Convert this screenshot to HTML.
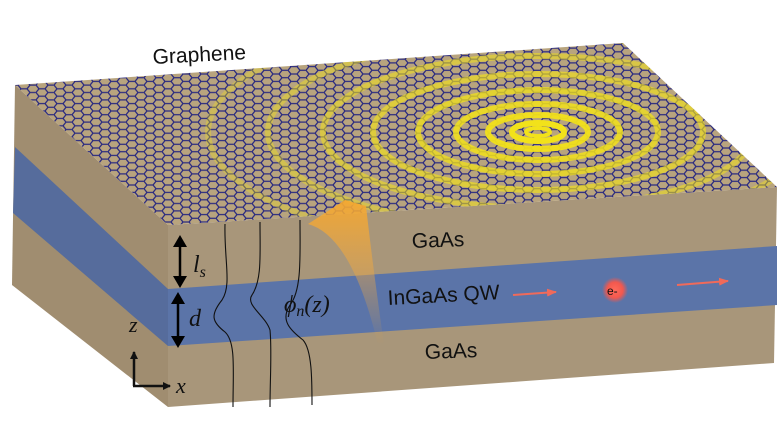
<!DOCTYPE html>
<html><head><meta charset="utf-8"><style>
html,body{margin:0;padding:0;background:#fff;}
svg{display:block;}
text{font-family:"Liberation Sans","DejaVu Sans",sans-serif;}
.it{font-family:"Liberation Serif","DejaVu Serif",serif;font-style:italic;}
</style></head><body>
<svg width="777" height="437" viewBox="0 0 777 437" xmlns="http://www.w3.org/2000/svg">
<defs>
<pattern id="hex" width="18" height="7.4" patternUnits="userSpaceOnUse">
<rect width="18" height="7.4" fill="#b8a47e"/>
<path d="M0,3.7 L3,0 L9,0 L12,3.7 L9,7.4 L3,7.4 Z M12,3.7 L18,3.7" fill="none" stroke="#2a2a80" stroke-width="1.3"/>
</pattern>
<clipPath id="top"><polygon points="15,85 623,43 777,187 168,225"/></clipPath>
<radialGradient id="eg"><stop offset="0" stop-color="#ff6a5a"/><stop offset="0.6" stop-color="#f2584e"/><stop offset="1" stop-color="#f2584e" stop-opacity="0"/></radialGradient>
<linearGradient id="og" x1="0" y1="0" x2="0" y2="1"><stop offset="0" stop-color="#f5a830" stop-opacity="0.95"/><stop offset="0.5" stop-color="#f0a840" stop-opacity="0.45"/><stop offset="1" stop-color="#f5a830" stop-opacity="0"/></linearGradient>
<marker id="ar" markerWidth="8" markerHeight="8" refX="7" refY="4" orient="auto" markerUnits="userSpaceOnUse"><path d="M0,0 L8,4 L0,8 Z" fill="#111"/></marker>
<marker id="rr" markerWidth="10" markerHeight="8" refX="9" refY="4" orient="auto" markerUnits="userSpaceOnUse"><path d="M0,0 L10,4 L0,8 Z" fill="#f06a5a"/></marker>
</defs>
<!-- left face -->
<polygon points="15,85 168,225 168,407 12,285" fill="#a08d70"/>
<polygon points="15,147 168,289 168,346 13,213" fill="#566c9c"/>
<!-- front face -->
<polygon points="168,225 777,187 774,363 168,407" fill="#a8967a"/>
<polygon points="168,289 777,246 777,305 168,346" fill="#5b74a8"/>
<!-- top face -->
<polygon points="15,85 623,43 777,187 168,225" fill="url(#hex)"/>
<g clip-path="url(#top)" fill="none" stroke="#f2e21a">
<ellipse cx="538" cy="132" rx="12" ry="4" stroke-width="4"/>
<ellipse cx="538" cy="132" rx="26" ry="9" stroke-width="6"/>
<ellipse cx="538" cy="132" rx="50" ry="17" stroke-width="6" opacity="0.95"/>
<ellipse cx="538" cy="132" rx="82" ry="28" stroke-width="6" opacity="0.85"/>
<ellipse cx="538" cy="132" rx="120" ry="42" stroke-width="6" opacity="0.75"/>
<ellipse cx="538" cy="132" rx="165" ry="58" stroke-width="6" opacity="0.65"/>
<ellipse cx="538" cy="132" rx="215" ry="76" stroke-width="6" opacity="0.55"/>
<ellipse cx="538" cy="132" rx="270" ry="96" stroke-width="6" opacity="0.45"/>
<ellipse cx="538" cy="132" rx="330" ry="118" stroke-width="6" opacity="0.35"/>
</g>
<!-- orange glow -->
<path d="M308,224 Q352,236 378,345 L384,345 Q372,260 366,206 L345,200 Z" fill="url(#og)"/>
<!-- wave lines -->
<g fill="none" stroke="#111" stroke-width="1.1">
<path d="M225,224 C224,260 232,285 222,300 C210,315 212,322 225,332 C236,342 233,370 233,407"/>
<path d="M260,222 C260,255 262,280 252,295 C245,305 265,315 270,330 C272,350 270,380 270,407"/>
<path d="M300,220 C300,255 302,290 290,305 C280,320 290,330 303,340 C312,350 312,380 312,405"/>
</g>
<!-- dimension arrows -->
<g stroke="#000" stroke-width="2.5">
<line x1="180" y1="245" x2="180" y2="278" />
<line x1="178" y1="302" x2="178" y2="336" />
</g>
<g fill="#000">
<path d="M180,235 L173,247 L187,247 Z"/><path d="M180,288 L173,276 L187,276 Z"/>
<path d="M178,292 L171,304 L185,304 Z"/><path d="M178,348 L171,336 L185,336 Z"/>
</g>
<!-- axes -->
<g stroke="#111" stroke-width="2.5" fill="none">
<line x1="134" y1="386" x2="134" y2="352" marker-end="url(#ar)"/>
<line x1="133" y1="386" x2="170" y2="386" marker-end="url(#ar)"/>
</g>
<text class="it" x="129" y="332" font-size="22" fill="#111">z</text>
<text class="it" x="176" y="393" font-size="22" fill="#111">x</text>
<text class="it" x="193" y="272" font-size="24" fill="#111">l<tspan font-size="16" dy="5">s</tspan></text>
<text class="it" x="189" y="326" font-size="24" fill="#111">d</text>
<text class="it" x="284" y="312" font-size="24" fill="#111">ϕ<tspan font-size="16" dy="4">n</tspan><tspan dy="-4">(z)</tspan></text>
<!-- labels -->
<text x="153" y="64" font-size="21" fill="#111" transform="rotate(-3 153 64)">Graphene</text>
<text x="412" y="248" font-size="21" fill="#111" transform="rotate(-2 412 248)">GaAs</text>
<text x="388" y="305" font-size="21" fill="#111" transform="rotate(-3 388 305)">InGaAs QW</text>
<text x="425" y="359" font-size="21" fill="#111" transform="rotate(-2 425 359)">GaAs</text>
<!-- electron -->
<circle cx="615" cy="290" r="13" fill="url(#eg)"/>
<text x="607" y="295" font-size="12" fill="#111">e-</text>
<line x1="513" y1="295" x2="556" y2="292" stroke="#f06a5a" stroke-width="2" marker-end="url(#rr)"/>
<line x1="677" y1="285" x2="728" y2="281" stroke="#f06a5a" stroke-width="2" marker-end="url(#rr)"/>
</svg>
</body></html>
